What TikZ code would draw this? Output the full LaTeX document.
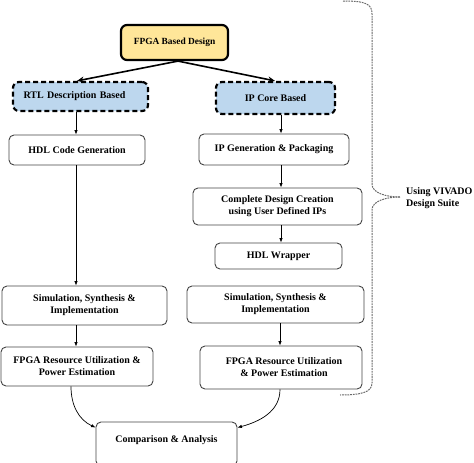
\documentclass[tikz,border=0pt]{standalone}
\usepackage{fontspec}
\setmainfont{Liberation Serif}
\usetikzlibrary{arrows.meta}
\definecolor{boxgold}{HTML}{FFE699}
\definecolor{boxblue}{HTML}{BDD7EE}
\definecolor{edgegray}{HTML}{444444}
\definecolor{bracegray}{HTML}{6A6A6A}
\begin{document}
\begin{tikzpicture}[x=1pt,y=-1pt,
  every node/.style={font=\fontsize{10}{12}\selectfont\bfseries, align=center, inner sep=0pt},
  plainbox/.style={draw=edgegray, line width=0.9pt, rounded corners=5pt, fill=white},
  goldbox/.style={draw=black, line width=2.2pt, rounded corners=6pt, fill=boxgold},
  bluebox/.style={draw=black, line width=2.2pt, dash pattern=on 5pt off 3pt, rounded corners=6pt, fill=boxblue},
  thickarr/.style={line width=1.6pt, -{Stealth[length=7pt,width=6pt]}},
  arr/.style={line width=0.7pt, -{Latex[length=4.5pt,width=3.5pt]}},
  brace/.style={draw=bracegray, line width=1pt, dash pattern=on 1.8pt off 0.9pt}
]
\useasboundingbox (0,0) rectangle (474,463);
\coordinate (xl) at (76,0);
\coordinate (xr) at (281,0);

\node[goldbox, minimum width=107pt, minimum height=35pt, font=\fontsize{9.4}{11}\selectfont\bfseries] (fpga) at (174.5,42.5) {FPGA Based Design};
\node[bluebox, minimum width=135pt, minimum height=29pt, text width=120pt, align=left] (rtl) at (80.5,96.5) {\hspace*{3pt}RTL Description Based};
\node[bluebox, minimum width=119pt, minimum height=32pt] (ipc) at (275.5,98) {IP Core Based};

\node[plainbox, minimum width=136pt, minimum height=30pt] (hdl) at (77,150) {HDL Code Generation};
\node[plainbox, minimum width=150pt, minimum height=31pt] (ipg) at (274,149.5) {IP Generation \& Packaging};
\node[plainbox, minimum width=169pt, minimum height=37pt] (cdc) at (277.5,206.5) {Complete Design Creation\\using User Defined IPs};
\node[plainbox, minimum width=127pt, minimum height=26pt] (wrap) at (278.5,256) {HDL Wrapper};

\node[plainbox, minimum width=165pt, minimum height=39pt] (siml) at (84.5,305.5) {Simulation, Synthesis \&\\Implementation};
\node[plainbox, minimum width=177pt, minimum height=37pt] (simr) at (275.5,304.5) {Simulation, Synthesis \&\\Implementation};

\node[plainbox, minimum width=152pt, minimum height=39pt] (resl) at (77,366.5) {FPGA Resource Utilization \&\\Power Estimation};
\node[plainbox, minimum width=162pt, minimum height=43pt] (resr) at (281,367.5) {\hspace*{6pt}FPGA Resource Utilization\\\hspace*{6pt}\& Power Estimation};

\node[plainbox, minimum width=141pt, minimum height=44pt, text depth=9pt] (cmp) at (166.5,444) {Comparison \& Analysis};

% connectors
\draw[thickarr] ([xshift=3.5pt]fpga.south) -- ([xshift=-3.5pt]rtl.north);
\draw[thickarr] ([xshift=3.5pt]fpga.south) -- ([xshift=-0.5pt]ipc.north);
\draw[arr] (rtl.south -| xl) -- (hdl.north -| xl);
\draw[arr] (ipc.south -| xr) -- (ipg.north -| xr);
\draw[arr] (ipg.south -| xr) -- (cdc.north -| xr);
\draw[arr] (cdc.south -| xr) -- (wrap.north -| xr);
\draw[arr] (hdl.south -| xl) -- (siml.north -| xl);
\draw[arr] (siml.south -| xl) -- (resl.north -| xl);
\draw[arr] ([xshift=-1pt]simr.south -| xr) -- ([xshift=-1pt]resr.north -| xr);
\draw[arr] ([xshift=-6pt]resl.south) to[out=-90, in=155] ([yshift=-6pt]cmp.north west);
\draw[arr] ([xshift=-1pt]resr.south) to[out=-90, in=15] ([yshift=-6pt]cmp.north east);

% dashed brace
\coordinate (btop) at (343,1);
\coordinate (btip) at (400,197);
\coordinate (bbot) at (340,395);
\draw[brace] (btop) .. controls (366,1) and (372,4) .. (372,14) -- (372,184) .. controls (372,193) and (386,197) .. (btip);
\draw[brace] (btip) .. controls (386,197) and (372,201) .. (372,210) -- (372,383) .. controls (372,392) and (362,395) .. (bbot);
\node[anchor=west, align=left] (viv) at (406,198) {Using VIVADO\\Design Suite};
\end{tikzpicture}
\end{document}
